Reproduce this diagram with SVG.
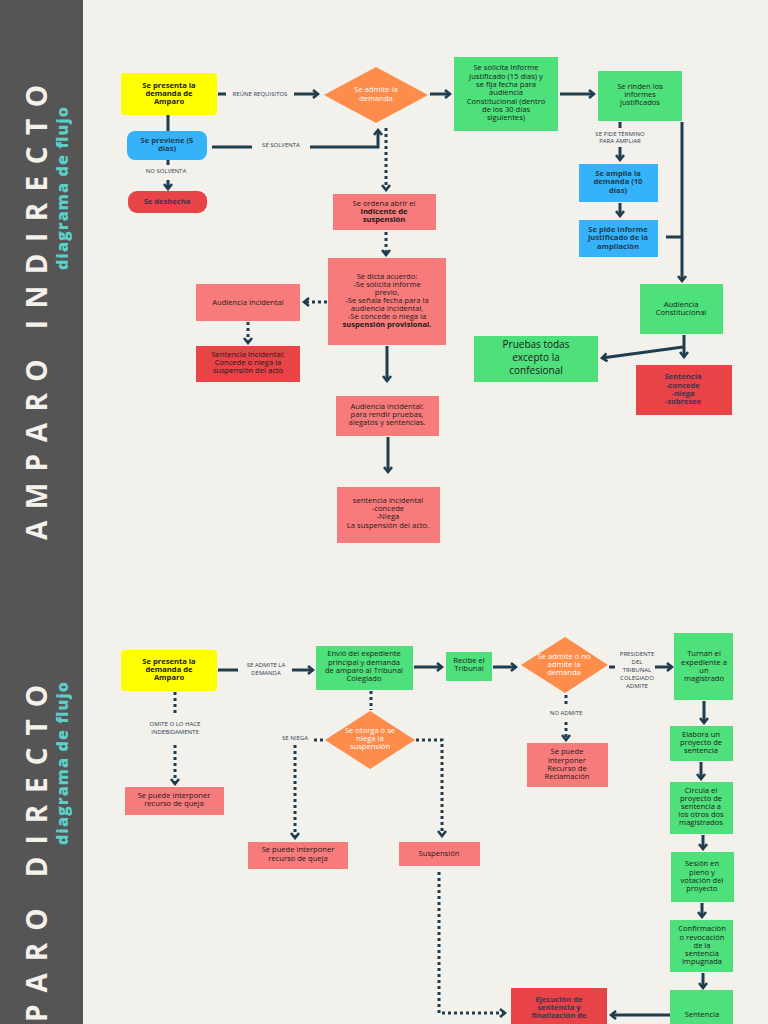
<svg xmlns="http://www.w3.org/2000/svg" width="768" height="1024" viewBox="0 0 768 1024">
<defs>
<marker id="a" viewBox="0 0 8 10" refX="6" refY="5" markerWidth="8" markerHeight="10" markerUnits="userSpaceOnUse" orient="auto">
<polyline points="1,1 6,5 1,9" fill="none" stroke="#1e3d4f" stroke-width="2.6"/>
</marker>
<style>
text{font-family:"Open Sans","Noto Sans",sans-serif;font-size:7.6px;fill:#1a1a1a;text-anchor:middle}
.b{font-weight:bold}
.w{fill:#ffffff}
.n{fill:#3b3552;font-weight:bold}
.lb{font-size:6px;fill:#2c3e50}
.s{fill:none;stroke:#1e3d4f;stroke-width:3}
.d{fill:none;stroke:#1e3d4f;stroke-width:3;stroke-dasharray:3 3}
.y{fill:#ffff00}.g{fill:#4ee07a}.p{fill:#f87b7b}.r{fill:#e84346}.bl{fill:#36b2fb}.o{fill:#fe8c4b}
.side{font-family:"Open Sans","Noto Sans",sans-serif;font-weight:bold;fill:#f3f1ec;font-size:28px;text-anchor:start}
.sub{font-family:"Open Sans","Noto Sans",sans-serif;font-weight:800;fill:#5ccfc9;font-size:16px;text-anchor:start}
</style>
</defs>
<rect width="768" height="1024" fill="#f3f1ec"/>
<rect width="83" height="1024" fill="#555555"/>
<text class="side" x="47" y="540" transform="rotate(-90 47 540)" textLength="455" lengthAdjust="spacing">AMPARO INDIRECTO</text>
<text class="sub" x="68" y="270" transform="rotate(-90 68 270)" textLength="163">diagrama de flujo</text>
<text class="side" x="47" y="1022" transform="rotate(-90 47 1022)" textLength="337" lengthAdjust="spacing">PARO DIRECTO</text>
<text class="sub" x="68" y="845" transform="rotate(-90 68 845)" textLength="163">diagrama de flujo</text>

<g id="connectors">
<line class="s" x1="218" y1="94" x2="226" y2="94"/>
<line class="s" x1="294" y1="94" x2="318" y2="94" marker-end="url(#a)"/>
<text class="lb" x="260" y="96">REÚNE REQUISITOS</text>
<line class="s" x1="430" y1="94" x2="450" y2="94" marker-end="url(#a)"/>
<line class="s" x1="560" y1="94" x2="594" y2="94" marker-end="url(#a)"/>
<line class="s" x1="168" y1="115" x2="168" y2="131"/>
<polyline class="s" points="212,147 252,147"/>
<polyline class="s" points="310,147 378,147 378,130" marker-end="url(#a)"/>
<text class="lb" x="281" y="147">SE SOLVENTA</text>
<line class="s" x1="168" y1="160" x2="168" y2="165"/>
<text class="lb" x="166" y="173">NO SOLVENTA</text>
<line class="s" x1="168" y1="180" x2="168" y2="189" marker-end="url(#a)"/>
<line class="d" x1="386" y1="128" x2="386" y2="190" marker-end="url(#a)"/>
<line class="d" x1="386" y1="232" x2="386" y2="255" marker-end="url(#a)"/>
<line class="d" x1="327" y1="302" x2="304" y2="302" marker-end="url(#a)"/>
<line class="d" x1="248" y1="322" x2="248" y2="343" marker-end="url(#a)"/>
<line class="s" x1="387" y1="346" x2="387" y2="381" marker-end="url(#a)"/>
<line class="s" x1="388" y1="437" x2="388" y2="472" marker-end="url(#a)"/>
<line class="s" x1="620" y1="122" x2="620" y2="128"/>
<text class="lb" x="620" y="136">SE PIDE TÉRMINO</text>
<text class="lb" x="620" y="143">PARA AMPLIAR</text>
<line class="s" x1="620" y1="147" x2="620" y2="160" marker-end="url(#a)"/>
<line class="s" x1="620" y1="203" x2="620" y2="216" marker-end="url(#a)"/>
<line class="s" x1="666" y1="237" x2="682" y2="237"/>
<line class="s" x1="682" y1="122" x2="682" y2="281" marker-end="url(#a)"/>
<line class="s" x1="684" y1="335" x2="684" y2="357" marker-end="url(#a)"/>
<line class="s" x1="683" y1="347" x2="602" y2="358" marker-end="url(#a)"/>

<line class="s" x1="218" y1="670" x2="238" y2="670"/>
<line class="s" x1="292" y1="670" x2="313" y2="670" marker-end="url(#a)"/>
<text class="lb" x="266" y="667">SE ADMITE LA</text>
<text class="lb" x="266" y="675">DEMANDA</text>
<line class="s" x1="414" y1="667" x2="442" y2="667" marker-end="url(#a)"/>
<line class="s" x1="493" y1="667" x2="516" y2="667" marker-end="url(#a)"/>
<line class="s" x1="609" y1="667" x2="615" y2="667"/>
<text class="lb" x="637" y="656">PRESIDENTE</text>
<text class="lb" x="637" y="664">DEL</text>
<text class="lb" x="637" y="672">TRIBUNAL</text>
<text class="lb" x="637" y="680">COLEGIADO</text>
<text class="lb" x="637" y="688">ADMITE</text>
<line class="s" x1="655" y1="667" x2="672" y2="667" marker-end="url(#a)"/>
<line class="s" x1="704" y1="701" x2="704" y2="723" marker-end="url(#a)"/>
<line class="s" x1="701" y1="762" x2="701" y2="779" marker-end="url(#a)"/>
<line class="s" x1="703" y1="835" x2="703" y2="849" marker-end="url(#a)"/>
<line class="s" x1="702" y1="903" x2="702" y2="917" marker-end="url(#a)"/>
<line class="s" x1="703" y1="973" x2="703" y2="988" marker-end="url(#a)"/>
<line class="s" x1="670" y1="1015" x2="611" y2="1015" marker-end="url(#a)"/>
<line class="d" x1="175" y1="692" x2="175" y2="714"/>
<text class="lb" x="175" y="726">OMITE O LO HACE</text>
<text class="lb" x="175" y="734">INDEBIDAMENTE</text>
<line class="d" x1="175" y1="745" x2="175" y2="784" marker-end="url(#a)"/>
<line class="d" x1="371" y1="691" x2="371" y2="710"/>
<line class="d" x1="323" y1="740" x2="313" y2="740"/>
<text class="lb" x="295" y="740">SE NIEGA</text>
<line class="d" x1="295" y1="745" x2="295" y2="838" marker-end="url(#a)"/>
<polyline class="d" points="416,740 442,740 442,836" marker-end="url(#a)"/>
<polyline class="d" points="439,872 439,1013 505,1013" marker-end="url(#a)"/>
<line class="d" x1="566" y1="695" x2="566" y2="706"/>
<text class="lb" x="566" y="715">NO ADMITE</text>
<line class="d" x1="566" y1="722" x2="566" y2="740" marker-end="url(#a)"/>
</g>

<g id="n1"><rect class="y" x="121" y="73" width="96" height="42" rx="3"/><text class="b" x="169" y="88">Se presenta la</text><text class="b" x="169" y="96">demanda de</text><text class="b" x="169" y="104">Amparo</text></g>
<g id="n2"><polygon class="o" points="324,95 376,67 428,95 376,123"/><text class="w" x="376" y="92">Se admite la</text><text class="w" x="376" y="101">demanda</text></g>
<g id="n3"><rect class="g" x="454" y="57" width="104" height="74"/><text x="506" y="70">Se solicita Informe</text><text x="506" y="79">Justificado (15 días) y</text><text x="506" y="87">se fija fecha para</text><text x="506" y="95">audiencia</text><text x="506" y="104">Constitucional (dentro</text><text x="506" y="112">de los 30 días</text><text x="506" y="120">siguientes)</text></g>
<g id="n4"><rect class="g" x="598" y="71" width="84" height="50"/><text x="640" y="89">Se rinden los</text><text x="640" y="97">informes</text><text x="640" y="105">justificados</text></g>
<g id="n5"><rect class="bl" x="127" y="131" width="80" height="29" rx="8"/><text class="n" x="167" y="143" style="fill:#1e3d4f">Se previene (5</text><text class="n" x="167" y="151" style="fill:#1e3d4f">días)</text></g>
<g id="n6"><rect class="r" x="128" y="191" width="79" height="22" rx="9"/><text class="n" x="167" y="204">Se deshecha</text></g>
<g id="n7"><rect class="p" x="333" y="194" width="103" height="36"/><text x="384" y="206">Se ordena abrir el</text><text class="b" x="384" y="214">indicente de</text><text class="b" x="384" y="222">suspensión</text></g>
<g id="n8"><rect class="p" x="328" y="258" width="118" height="87"/><text x="387" y="279">Se dicta acuerdo:</text><text x="387" y="287">-Se solicita informe</text><text x="387" y="295">previo,</text><text x="387" y="303">-Se señala fecha para la</text><text x="387" y="311">audiencia incidental,</text><text x="387" y="319">-Se concede o niega la</text><text class="b" x="387" y="327">suspensión provisional.</text></g>
<g id="n9"><rect class="p" x="196" y="284" width="104" height="37"/><text x="248" y="305">Audiencia Incidental</text></g>
<g id="n10"><rect class="r" x="196" y="346" width="104" height="36"/><text x="248" y="357">Sentencia Incidental:</text><text x="248" y="365">Concede o niega la</text><text x="248" y="373">suspensión del acto</text></g>
<g id="n11"><rect class="p" x="336" y="396" width="103" height="40"/><text x="387" y="409">Audiencia incidental:</text><text x="387" y="417">para rendir pruebas,</text><text x="387" y="425">alegatos y sentencias.</text></g>
<g id="n12"><rect class="p" x="337" y="487" width="103" height="56"/><text x="388" y="503">sentencia incidental</text><text x="388" y="511">-concede</text><text x="388" y="519">-Niega</text><text x="388" y="528">La suspensión del acto.</text></g>
<g id="n13"><rect class="bl" x="579" y="164" width="79" height="38"/><text class="n" x="618" y="176" style="fill:#1e3d4f">Se amplia la</text><text class="n" x="618" y="184" style="fill:#1e3d4f">demanda (10</text><text class="n" x="618" y="193" style="fill:#1e3d4f">días)</text></g>
<g id="n14"><rect class="bl" x="579" y="220" width="79" height="37"/><text class="n" x="618" y="232" style="fill:#1e3d4f">Se pide informe</text><text class="n" x="618" y="240" style="fill:#1e3d4f">justificado de la</text><text class="n" x="618" y="249" style="fill:#1e3d4f">ampliaciòn</text></g>
<g id="n15"><rect class="g" x="640" y="284" width="83" height="50"/><text x="681" y="307">Audiencia</text><text x="681" y="315">Constitucional</text></g>
<g id="n16"><rect class="g" x="474" y="336" width="124" height="46"/><text x="536" y="348" style="font-size:10px">Pruebas todas</text><text x="536" y="361" style="font-size:10px">excepto la</text><text x="536" y="374" style="font-size:10px">confesional</text></g>
<g id="n17"><rect class="r" x="636" y="365" width="96" height="50"/><text class="n" x="683" y="379">Sentencia</text><text class="n" x="683" y="388">-concede</text><text class="n" x="683" y="396">-niega</text><text class="n" x="683" y="404">-sobresee</text></g>

<g id="m1"><rect class="y" x="121" y="650" width="96" height="41" rx="3"/><text class="b" x="169" y="664">Se presenta la</text><text class="b" x="169" y="672">demanda de</text><text class="b" x="169" y="680">Amparo</text></g>
<g id="m2"><rect class="g" x="316" y="646" width="97" height="44"/><text x="364" y="656">Envió del expediente</text><text x="364" y="665">principal y demanda</text><text x="364" y="673">de amparo al Tribunal</text><text x="364" y="681">Colegiado</text></g>
<g id="m3"><rect class="g" x="446" y="652" width="46" height="29"/><text x="469" y="663">Recibe el</text><text x="469" y="671">Tribunal</text></g>
<g id="m4"><polygon class="o" points="521,665 565,637 608,665 565,693"/><text class="w" x="564" y="659">Se admite o no</text><text class="w" x="564" y="667">admite la</text><text class="w" x="564" y="675">demanda</text></g>
<g id="m5"><rect class="g" x="674" y="633" width="59" height="67"/><text x="704" y="656">Turnan el</text><text x="704" y="665">expediente a</text><text x="704" y="673">un</text><text x="704" y="681">magistrado</text></g>
<g id="m6"><rect class="g" x="670" y="726" width="63" height="35"/><text x="701" y="737">Elabora un</text><text x="701" y="745">proyecto de</text><text x="701" y="753">sentencia</text></g>
<g id="m7"><rect class="g" x="670" y="782" width="63" height="52"/><text x="701" y="793">Circula el</text><text x="701" y="801">proyecto de</text><text x="701" y="809">sentencia a</text><text x="701" y="817">los otros dos</text><text x="701" y="825">magistrados</text></g>
<g id="m8"><rect class="g" x="671" y="852" width="63" height="50"/><text x="702" y="866">Sesión en</text><text x="702" y="875">pleno y</text><text x="702" y="883">votación del</text><text x="702" y="891">proyecto</text></g>
<g id="m9"><rect class="g" x="670" y="920" width="63" height="52"/><text x="702" y="931">Confirmación</text><text x="702" y="940">o revocación</text><text x="702" y="948">de la</text><text x="702" y="956">sentencia</text><text x="702" y="964">impugnada</text></g>
<g id="m10"><rect class="g" x="670" y="990" width="63" height="40"/><text x="702" y="1017">Sentencia</text></g>
<g id="m11"><rect class="r" x="511" y="988" width="96" height="40"/><text class="n" x="559" y="1002">Ejecución de</text><text class="n" x="559" y="1010">sentencia y</text><text class="n" x="559" y="1018">finalización de</text></g>
<g id="m12"><rect class="p" x="125" y="787" width="99" height="28"/><text x="174" y="798">Se puede interponer</text><text x="174" y="806">recurso de queja</text></g>
<g id="m13"><polygon class="o" points="325,740 370,711 415,740 370,769"/><text class="w" x="370" y="733">Se otorga o se</text><text class="w" x="370" y="741">niega la</text><text class="w" x="370" y="749">suspensión</text></g>
<g id="m14"><rect class="p" x="248" y="842" width="100" height="27"/><text x="298" y="852">Se puede interponer</text><text x="298" y="861">recurso de queja</text></g>
<g id="m15"><rect class="p" x="399" y="842" width="81" height="24"/><text x="439" y="856">Suspensión</text></g>
<g id="m16"><rect class="p" x="527" y="743" width="81" height="44"/><text x="567" y="754">Se puede</text><text x="567" y="763">interponer</text><text x="567" y="771">Recurso de</text><text x="567" y="779">Reclamación</text></g>
</svg>
